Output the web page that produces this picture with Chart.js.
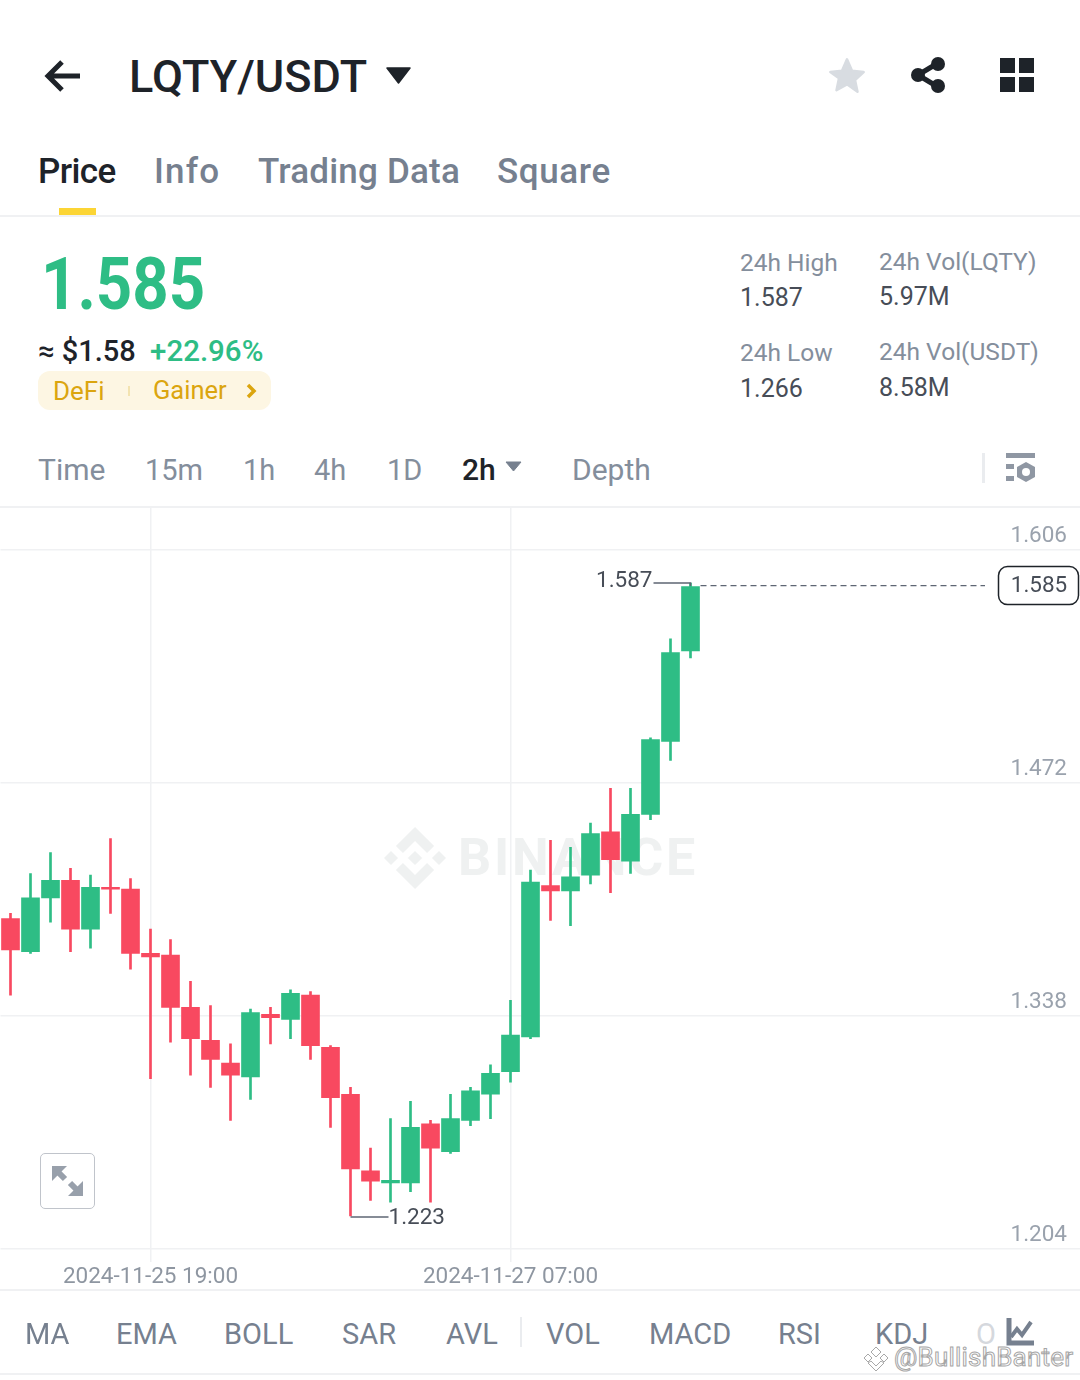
<!DOCTYPE html>
<html>
<head>
<meta charset="utf-8">
<title>LQTY/USDT</title>
<script src="https://cdn.jsdelivr.net/npm/chart.js@4/dist/chart.umd.min.js"></script>
<style>
  html, body { margin: 0; padding: 0; background: #fff; }
  body { width: 1080px; height: 1380px; position: relative; overflow: hidden; font-family: Roboto, "Noto Sans", sans-serif; color: #1e2329; }
  .t { position: absolute; white-space: nowrap; line-height: 1; }
  .line { position: absolute; left: 0; width: 1080px; height: 2px; background: #f0f1f3; }
  .tab { font-size: 35px; font-weight: 500; top: 154px; color: #76808f; }
  .stat { font-size: 24.5px; color: #848e9c; }
  .val { font-size: 25px; color: #474d57; }
  .iv { font-size: 30px; top: 455px; color: #848e9c; }
  .iv.n { font-size: 29px; top: 456px; }
  .ind { font-size: 29px; top: 1320px; color: #76808f; }
  svg { position: absolute; }
  #chartWrap { position: absolute; left: 0; top: 508px; }
</style>
</head>
<body>

<!-- header -->
<svg style="left:42px;top:58px" width="42" height="36" viewBox="0 0 42 36"><path d="M38 18H7M20 4L6 18l14 14" fill="none" stroke="#1e2329" stroke-width="5"/></svg>
<div class="t" style="left:129px;top:54px;font-size:45px;font-weight:500">LQTY/USDT</div>
<svg style="left:386px;top:67px" width="25" height="18" viewBox="0 0 25 18"><path d="M1 1h23L12.500 16z" fill="#1e2329" stroke="#1e2329" stroke-linejoin="round" stroke-width="1.500"/></svg>
<svg style="left:827px;top:56px" width="40" height="40" viewBox="0 0 24 24"><path d="M12 2l3 6.800 7 .8-5.200 4.800 1.500 7.100L12 17l-6.300 3.500 1.500-7.100L2 9.600l7-.8z" fill="#d8dce1" stroke="#d8dce1" stroke-linejoin="round" stroke-width="1.500"/></svg>
<svg style="left:909px;top:55px" width="40" height="40" viewBox="0 0 40 40"><path d="M9 20L29 8M9 20l20 12" stroke="#1e2329" stroke-width="5"/><circle cx="9" cy="20" r="7" fill="#1e2329"/><circle cx="29" cy="9" r="7" fill="#1e2329"/><circle cx="29" cy="31" r="7" fill="#1e2329"/></svg>
<svg style="left:1000px;top:58px" width="34" height="34" viewBox="0 0 34 34" fill="#1e2329"><rect width="15" height="15"/><rect x="19" width="15" height="15"/><rect y="19" width="15" height="15"/><rect x="19" y="19" width="15" height="15"/></svg>

<!-- tabs -->
<div class="t tab" style="left:38px;color:#1e2329;letter-spacing:-.6px">Price</div>
<div class="t tab" style="left:154px;letter-spacing:1.200px">Info</div>
<div class="t tab" style="left:258px;letter-spacing:.2px">Trading Data</div>
<div class="t tab" style="left:497px;letter-spacing:.6px">Square</div>
<div style="position:absolute;left:59px;top:208px;width:37px;height:7px;background:#fcd535"></div>
<div class="line" style="top:215px"></div>

<!-- price block -->
<div class="t" style="left:41px;top:248px;font-size:73px;font-weight:700;color:#2ebd85;transform:scaleX(.87);transform-origin:left">1.585</div>
<div class="t" style="left:38px;top:337px;font-size:29px;font-weight:500">≈ $1.58</div>
<div class="t" style="left:150px;top:337px;font-size:29.500px;font-weight:500;color:#2ebd85">+22.96%</div>
<div style="position:absolute;left:38px;top:371px;width:233px;height:39px;background:#fdf6e3;border-radius:12px"></div>
<div class="t" style="left:53px;top:378px;font-size:26px;color:#dba50f">DeFi</div>
<div style="position:absolute;left:128px;top:386px;width:2px;height:10px;background:#f3e3b0"></div>
<div class="t" style="left:153px;top:378px;font-size:25.500px;color:#dba50f">Gainer</div>
<svg style="left:245px;top:383px" width="13" height="16" viewBox="0 0 13 16"><path d="M3 2l6 6-6 6" fill="none" stroke="#dba50f" stroke-width="3.500"/></svg>

<div class="t stat" style="left:740px;top:251px">24h High</div>
<div class="t val" style="left:740px;top:285px">1.587</div>
<div class="t stat" style="left:879px;top:250px">24h Vol(LQTY)</div>
<div class="t val" style="left:879px;top:284px">5.97M</div>
<div class="t stat" style="left:740px;top:341px">24h Low</div>
<div class="t val" style="left:740px;top:376px">1.266</div>
<div class="t stat" style="left:879px;top:340px">24h Vol(USDT)</div>
<div class="t val" style="left:879px;top:375px">8.58M</div>

<!-- interval row -->
<div class="t iv" style="left:38px">Time</div>
<div class="t iv n" style="left:145px">15m</div>
<div class="t iv n" style="left:243px">1h</div>
<div class="t iv n" style="left:314px">4h</div>
<div class="t iv n" style="left:387px">1D</div>
<div class="t iv" style="left:462px;color:#1e2329;font-weight:500">2h</div>
<svg style="left:505px;top:461px" width="17" height="12" viewBox="0 0 17 12"><path d="M1 1h15L8.500 10z" fill="#76808f" stroke="#76808f" stroke-linejoin="round"/></svg>
<div class="t iv" style="left:572px">Depth</div>
<div style="position:absolute;left:982px;top:453px;width:3px;height:30px;background:#eaecef"></div>
<svg style="left:1006px;top:453px" width="30" height="30" viewBox="0 0 30 30" fill="#8f97a3"><rect width="29" height="5"/><rect y="11" width="8" height="5"/><rect y="23" width="8" height="5"/><path d="M20 9l9 5v10l-9 5-9-5V14z"/><circle cx="20" cy="19" r="4" fill="#fff"/></svg>
<div class="line" style="top:506px"></div>

<!-- BINANCE watermark sits under the canvas -->
<svg style="left:384px;top:827px" width="62" height="62" viewBox="0 0 126.610 126.610" fill="#eff1f1"><path d="M38.730 53.200l24.590-24.580 24.600 24.600 14.300-14.310L63.320 0 24.430 38.900zM0 63.310L14.300 49l14.310 14.310-14.310 14.300zM38.730 73.410L63.320 98l24.600-24.600 14.310 14.290-38.900 38.910-38.900-38.880zM98 63.310L112.300 49l14.310 14.300-14.310 14.320zM77.830 63.300L63.320 48.780 48.810 63.280l14.510 14.500z"/></svg>
<div class="t" style="left:458px;top:832px;font-size:52px;font-weight:700;color:#eff1f1;letter-spacing:2.800px">BINANCE</div>

<div id="chartWrap"><canvas id="chart" width="1081" height="782"></canvas></div>

<!-- expand button -->
<div style="position:absolute;left:40px;top:1153px;width:53px;height:54px;background:#fff;border:1.500px solid #c0c4cb;border-radius:5px"></div>
<svg style="left:49px;top:1163px" width="36" height="36" viewBox="0 0 36 36" fill="#98a0ab"><path d="M3 3h15L3 18z"/><path d="M34 33H19l15-15z"/><path d="M9 9l7 7M21 20l7 7" stroke="#98a0ab" stroke-width="6"/></svg>

<!-- indicators -->
<div class="line" style="top:1289px"></div>
<div class="t ind" style="left:25px">MA</div>
<div class="t ind" style="left:116px">EMA</div>
<div class="t ind" style="left:224px">BOLL</div>
<div class="t ind" style="left:342px">SAR</div>
<div class="t ind" style="left:446px">AVL</div>
<div style="position:absolute;left:520px;top:1317px;width:2px;height:30px;background:#eaecef"></div>
<div class="t ind" style="left:546px">VOL</div>
<div class="t ind" style="left:649px">MACD</div>
<div class="t ind" style="left:778px">RSI</div>
<div class="t ind" style="left:875px">KDJ</div>
<div class="t ind" style="left:976px;color:#d5d8dd">O</div>
<svg style="left:1006px;top:1318px" width="28" height="28" viewBox="0 0 28 28"><path d="M3 0v25h25" fill="none" stroke="#76808f" stroke-width="5"/><path d="M5 19l6-8 5 6 9-13" fill="none" stroke="#76808f" stroke-width="4"/></svg>
<div class="line" style="top:1373px"></div>

<!-- repost mark -->
<svg style="left:862px;top:1346px" width="28" height="26" viewBox="0 0 28 26" fill="#fff" stroke="#a8a8a8"><path d="M14 1l5 5-5 5-5-5zM6 8l4 4-4 4-4-4zM22 8l4 4-4 4-4-4zM14 25l-8-8 3-2 5 5 5-5 3 2z"/></svg>
<div class="t" style="left:894px;top:1344px;font-size:26px;color:#fff;-webkit-text-stroke:1px #a6a6a6;letter-spacing:.2px">@BullishBanter</div>

<script>
// first candle 2024-11-25 05:00, 2h candles
const categories = [
  "2024-11-25 05:00", "2024-11-25 07:00", "2024-11-25 09:00", "2024-11-25 11:00", "2024-11-25 13:00",
  "2024-11-25 15:00", "2024-11-25 17:00", "2024-11-25 19:00", "2024-11-25 21:00", "2024-11-25 23:00",
  "2024-11-26 01:00", "2024-11-26 03:00", "2024-11-26 05:00", "2024-11-26 07:00", "2024-11-26 09:00",
  "2024-11-26 11:00", "2024-11-26 13:00", "2024-11-26 15:00", "2024-11-26 17:00", "2024-11-26 19:00",
  "2024-11-26 21:00", "2024-11-26 23:00", "2024-11-27 01:00", "2024-11-27 03:00", "2024-11-27 05:00",
  "2024-11-27 07:00", "2024-11-27 09:00", "2024-11-27 11:00", "2024-11-27 13:00", "2024-11-27 15:00",
  "2024-11-27 17:00", "2024-11-27 19:00", "2024-11-27 21:00", "2024-11-27 23:00", "2024-11-28 01:00"
];
// empty slots to the right of the last candle
const emptySlots = 19;

const opens  = [1.394, 1.375, 1.406, 1.416, 1.388, 1.412, 1.411, 1.374, 1.373, 1.343, 1.324, 1.311, 1.303, 1.339, 1.336, 1.350, 1.320, 1.293, 1.249, 1.242, 1.242, 1.276, 1.260, 1.278, 1.293, 1.306, 1.326, 1.413, 1.410, 1.419, 1.444, 1.427, 1.454, 1.496, 1.548];
const highs  = [1.397, 1.420, 1.432, 1.423, 1.419, 1.440, 1.417, 1.388, 1.382, 1.358, 1.344, 1.322, 1.342, 1.343, 1.353, 1.352, 1.321, 1.297, 1.262, 1.279, 1.289, 1.278, 1.293, 1.297, 1.310, 1.347, 1.422, 1.439, 1.435, 1.449, 1.469, 1.469, 1.498, 1.555, 1.587];
const lows   = [1.350, 1.374, 1.392, 1.375, 1.377, 1.397, 1.365, 1.302, 1.323, 1.304, 1.297, 1.278, 1.290, 1.322, 1.325, 1.313, 1.274, 1.223, 1.232, 1.231, 1.237, 1.231, 1.259, 1.275, 1.279, 1.300, 1.325, 1.393, 1.390, 1.414, 1.409, 1.420, 1.451, 1.485, 1.544];
const closes = [1.376, 1.406, 1.416, 1.388, 1.412, 1.411, 1.374, 1.372, 1.343, 1.325, 1.313, 1.304, 1.340, 1.337, 1.351, 1.321, 1.291, 1.250, 1.243, 1.2435, 1.274, 1.262, 1.279, 1.295, 1.305, 1.327, 1.415, 1.410, 1.418, 1.443, 1.428, 1.454, 1.497, 1.547, 1.585];

const yTicks = [1.204, 1.338, 1.472, 1.606];
const xTickIndexes = [7, 25];
const lastPrice = 1.585;
const highMark = { index: 34, value: 1.587 };
const lowMark = { index: 17, value: 1.223 };

const GREEN = "#2ebd85";
const RED = "#f84960";
const GRID = "#f0f1f3";

const labels = categories.concat(Array(emptySlots).fill(""));
const candleColors = opens.map((o, i) => closes[i] >= o ? GREEN : RED);

// price markers drawn over the candles
const markers = {
  id: "markers",
  afterDatasetsDraw(chart) {
    const { ctx, scales } = chart;
    const xs = scales.x, ys = scales.y;
    ctx.save();
    ctx.font = "22.5px Roboto";
    ctx.textBaseline = "middle";

    // high
    let px = xs.getPixelForValue(highMark.index);
    let py = ys.getPixelForValue(highMark.value);
    ctx.strokeStyle = "#5e6673";
    ctx.lineWidth = 1.5;
    ctx.beginPath();
    ctx.moveTo(px - 37, py);
    ctx.lineTo(px, py);
    ctx.lineTo(px, py + 3);
    ctx.stroke();
    ctx.fillStyle = "#474d57";
    ctx.textAlign = "right";
    ctx.fillText(highMark.value.toFixed(3), px - 38, py - 2);

    // low
    px = xs.getPixelForValue(lowMark.index);
    py = ys.getPixelForValue(lowMark.value);
    ctx.beginPath();
    ctx.moveTo(px, py + 1);
    ctx.lineTo(px + 38, py + 1);
    ctx.stroke();
    ctx.textAlign = "left";
    ctx.fillText(lowMark.value.toFixed(3), px + 38, py + 2);

    // last price
    py = ys.getPixelForValue(lastPrice) - 1;
    ctx.setLineDash([6, 4]);
    ctx.lineWidth = 1.3;
    ctx.beginPath();
    ctx.moveTo(xs.getPixelForValue(opens.length - 1) + 10, py);
    ctx.lineTo(985, py);
    ctx.stroke();
    ctx.setLineDash([]);
    ctx.fillStyle = "#fff";
    ctx.strokeStyle = "#1e2329";
    ctx.lineWidth = 1.5;
    ctx.beginPath();
    ctx.roundRect(998.5, py - 19, 80, 38, 9);
    ctx.fill();
    ctx.stroke();
    ctx.fillStyle = "#474d57";
    ctx.textAlign = "center";
    ctx.fillText(lastPrice.toFixed(3), 1039, py + 1);
    ctx.restore();
  }
};

new Chart(document.getElementById("chart"), {
  type: "bar",
  data: {
    labels: labels,
    datasets: [
      {
        label: "wick",
        data: lows.map((l, i) => [l, highs[i]]),
        backgroundColor: candleColors,
        barThickness: 2,
        grouped: false,
        order: 2
      },
      {
        label: "body",
        data: opens.map((o, i) => [o, closes[i]]),
        backgroundColor: candleColors,
        barThickness: 18,
        grouped: false,
        order: 1
      }
    ]
  },
  options: {
    responsive: false,
    animation: false,
    devicePixelRatio: 1,
    layout: { padding: { left: 0.5, right: 0.5, top: 0, bottom: 0 } },
    plugins: { legend: { display: false }, tooltip: { enabled: false } },
    scales: {
      x: {
        grid: { offset: false, color: GRID, lineWidth: 1.5, tickLength: 13, tickColor: GRID },
        border: { display: false },
        ticks: {
          autoSkip: false,
          maxRotation: 0,
          color: "#8e96a1",
          font: { size: 22.5, family: "Roboto" },
          padding: 2
        },
        afterBuildTicks(scale) { scale.ticks = xTickIndexes.map(v => ({ value: v })); },
        afterFit(scale) { scale.height = 41; scale.paddingLeft = 0; scale.paddingRight = 0; }
      },
      y: {
        position: "right",
        min: 1.204,
        max: 1.6302,
        grid: { color: GRID, lineWidth: 1.5, drawTicks: false },
        border: { display: false },
        ticks: {
          mirror: true,
          padding: -13.5,
          labelOffset: -14,
          color: "#9aa2ad",
          font: { size: 22.5, family: "Roboto" },
          callback: v => v.toFixed(3)
        },
        afterBuildTicks(scale) { scale.ticks = yTicks.map(v => ({ value: v })); },
        afterFit(scale) { scale.width = 0; scale.paddingTop = 0; scale.paddingBottom = 0; }
      }
    }
  },
  plugins: [markers]
});
</script>
</body>
</html>
